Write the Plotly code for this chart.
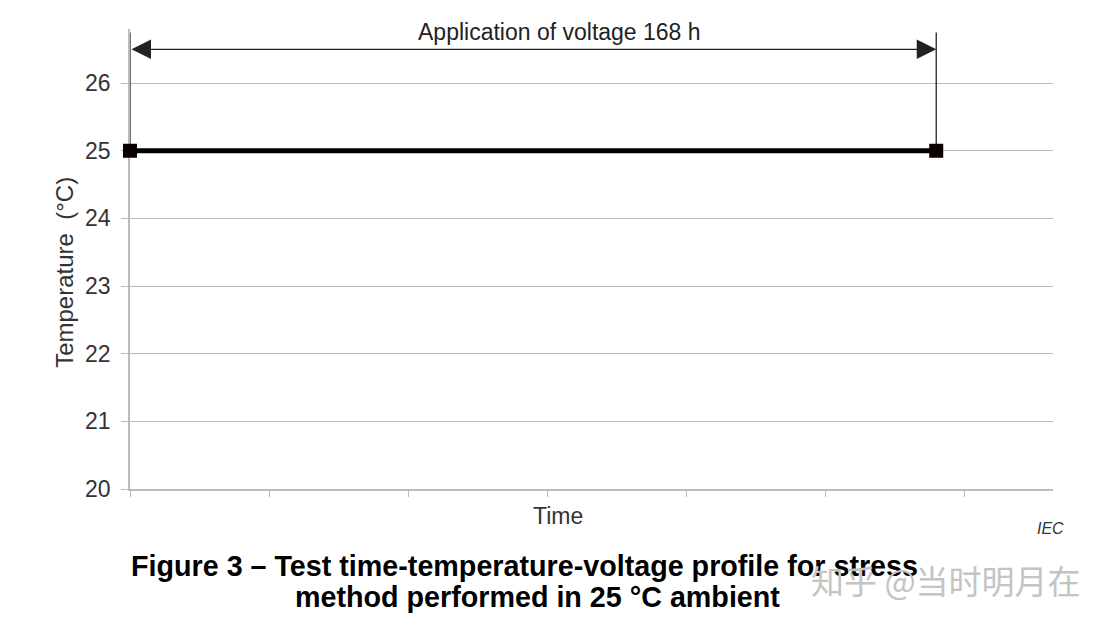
import plotly.graph_objects as go

# data
time_units = [0, 5.8]          # time axis (arbitrary units, 168 h span)
temperature = [25, 25]         # °C
y_ticks = [20, 21, 22, 23, 24, 25, 26]
x_ticks = [0, 1, 2, 3, 4, 5, 6]
span_label = "Application of voltage 168 h"
caption_lines = ["Figure 3 – Test time-temperature-voltage profile for stress",
                 "method performed in 25 °C ambient"]
arrow_level = 26.5
ext_top = 26.75

fig = go.Figure()
fig.add_trace(go.Scatter(
    x=time_units, y=temperature, mode="lines+markers",
    line=dict(color="#000000", width=5),
    marker=dict(symbol="square", size=14, color="#0a0000"),
    showlegend=False, hoverinfo="skip", cliponaxis=False,
))

# extension lines
for xv in time_units:
    fig.add_shape(type="line", xref="x", yref="y", x0=xv, x1=xv, y0=25.1, y1=ext_top,
                  line=dict(color="#222222", width=1.3), layer="above")

# double arrow
fig.add_annotation(x=time_units[1], y=arrow_level, ax=time_units[0], ay=arrow_level,
                   xref="x", yref="y", axref="x", ayref="y", text="",
                   showarrow=True, arrowhead=2, arrowside="end+start",
                   arrowsize=3, arrowwidth=1.3, arrowcolor="#222222")

fig.add_annotation(x=0.465, y=0.993, xref="paper", yref="paper", text=span_label,
                   showarrow=False, font=dict(size=23, color="#222222", family="Liberation Sans"),
                   xanchor="center", yanchor="middle")

# y title
fig.add_annotation(x=-0.0704, y=0.47, xref="paper", yref="paper", text="Temperature  (°C)",
                   textangle=-90, showarrow=False,
                   font=dict(size=24, color="#333333", family="Liberation Sans"),
                   xanchor="center", yanchor="middle")
# x title
fig.add_annotation(x=0.464, y=-0.0587, xref="paper", yref="paper", text="Time",
                   showarrow=False, font=dict(size=23, color="#333333", family="Liberation Sans"),
                   xanchor="center", yanchor="middle")
# IEC
fig.add_annotation(x=0.997, y=-0.085, xref="paper", yref="paper", text="<i>IEC</i>",
                   showarrow=False, font=dict(size=16, color="#333333", family="Liberation Sans"),
                   xanchor="center", yanchor="middle")
# caption (two lines)
fig.add_annotation(x=0.427, y=-0.167, xref="paper", yref="paper",
                   text="<b>" + caption_lines[0] + "</b>",
                   showarrow=False, font=dict(size=28.7, color="#000000", family="Liberation Sans"),
                   xanchor="center", yanchor="middle")
fig.add_annotation(x=0.442, y=-0.235, xref="paper", yref="paper",
                   text="<b>" + caption_lines[1] + "</b>",
                   showarrow=False, font=dict(size=28.7, color="#000000", family="Liberation Sans"),
                   xanchor="center", yanchor="middle")
# watermark
fig.add_annotation(x=0.884, y=-0.198, xref="paper", yref="paper", text="知乎 @当时明月在",
                   showarrow=False, font=dict(size=33, color="#c4c4c4", family="Noto Sans CJK SC"),
                   xanchor="center", yanchor="middle")

fig.update_layout(
    width=1110, height=630,
    margin=dict(l=122, r=65, t=21, b=149),
    plot_bgcolor="white", paper_bgcolor="white",
    xaxis=dict(range=[0, 6.64], tickvals=x_ticks, showticklabels=False, showgrid=False,
               ticks="outside", ticklen=6, tickcolor="#bbbbbb", showline=True,
               linecolor="#bbbbbb", linewidth=1.5, zeroline=False, fixedrange=True,
               layer="below traces"),
    yaxis=dict(range=[20, 26.8], tickvals=y_ticks, showgrid=True, gridcolor="#bbbbbb",
               gridwidth=1, ticks="outside", ticklen=7, tickcolor="#bbbbbb",
               showline=True, linecolor="#bbbbbb", linewidth=1.5, zeroline=False,
               ticklabelstandoff=6, layer="below traces",
               tickfont=dict(size=23, color="#333333", family="Liberation Sans")),
)

fig.write_html("out.html")
